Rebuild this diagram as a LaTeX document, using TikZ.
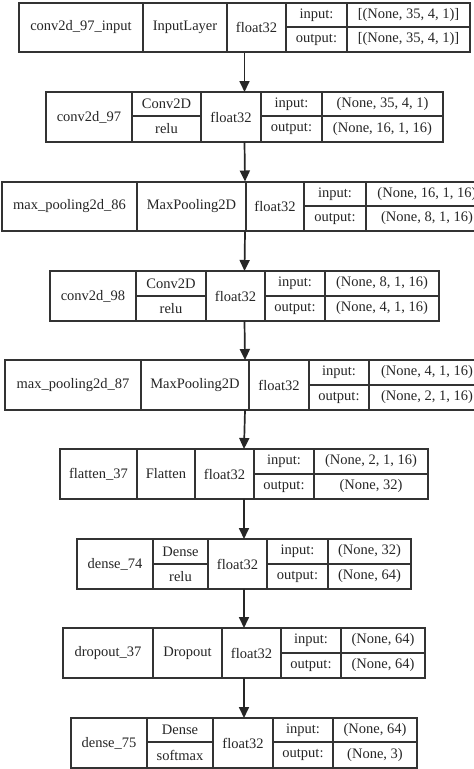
\documentclass[tikz,border=0pt]{standalone}
\usepackage{fontspec}
\setmainfont{Liberation Serif}
\usetikzlibrary{arrows.meta}
\newcommand\mycell[6]{%
  \pgfmathsetmacro\cw{#3-#2}\pgfmathsetmacro\ch{#5-#4}%
  \node[cell, minimum width=\cw pt, minimum height=\ch pt] (#1) at ({(#2+#3)/2},{(#4+#5)/2}) {#6};}
\newcommand\myrec[4]{% name, top, x0, x5
  \pgfmathsetmacro\cw{#4-#3}%
  \node[rec, minimum width=\cw pt, minimum height=50pt] (#1) at ({(#3+#4)/2},{#2+25}) {};}
\tikzset{
  cell/.style={draw=black!80, line width=1.2pt, inner sep=0pt, outer sep=0pt, text=black!85,
    font=\fontsize{14.5}{16}\selectfont},
  rec/.style={draw=black!80, line width=1.4pt, inner sep=0pt, outer sep=0pt},
  arr/.style={draw=black!85, line width=1.7pt, -{Triangle[width=10pt,length=11pt]}}
}
\begin{document}
\begin{tikzpicture}[x=1pt,y=-1pt]
\useasboundingbox (0,0) rectangle (474,769);
\clip (0,0) rectangle (474,769);
\fill[white] (0,0) rectangle (474,769);
% 1
\mycell{a1}{19}{143}{3}{52}{conv2d\_97\_input}
\mycell{a2}{143}{227}{3}{52}{InputLayer}
\mycell{a3}{227}{286}{3}{52}{float32}
\mycell{a4}{286}{347}{3}{27}{input:}
\mycell{a5}{286}{347}{27}{52}{output:}
\mycell{a6}{347}{470}{3}{27}{[(None, 35, 4, 1)]}
\mycell{a7}{347}{470}{27}{52}{[(None, 35, 4, 1)]}
\myrec{L1}{2.5}{19}{470}
% 2
\mycell{b1}{46}{132}{92}{142}{conv2d\_97}
\mycell{b2}{132}{201}{92}{116}{Conv2D}
\mycell{b2b}{132}{201}{116}{142}{relu}
\mycell{b3}{201}{261}{92}{142}{float32}
\mycell{b4}{261}{322}{92}{116}{input:}
\mycell{b5}{261}{322}{116}{142}{output:}
\mycell{b6}{322}{443}{92}{116}{(None, 35, 4, 1)}
\mycell{b7}{322}{443}{116}{142}{(None, 16, 1, 16)}
\myrec{L2}{92}{46}{443}
% 3
\mycell{c1}{2}{137}{182}{231}{max\_pooling2d\_86}
\mycell{c2}{137}{246}{182}{231}{MaxPooling2D}
\mycell{c3}{246}{304}{182}{231}{float32}
\mycell{c4}{304}{366}{182}{206}{input:}
\mycell{c5}{304}{366}{206}{231}{output:}
\mycell{c6}{366}{488}{182}{206}{(None, 16, 1, 16)}
\mycell{c7}{366}{488}{206}{231}{(None, 8, 1, 16)}
\myrec{L3}{181.5}{2}{488}
% 4
\mycell{d1}{50}{136}{271}{321}{conv2d\_98}
\mycell{d2}{136}{206}{271}{296}{Conv2D}
\mycell{d2b}{136}{206}{296}{321}{relu}
\mycell{d3}{206}{265}{271}{321}{float32}
\mycell{d4}{265}{325}{271}{296}{input:}
\mycell{d5}{265}{325}{296}{321}{output:}
\mycell{d6}{325}{439}{271}{296}{(None, 8, 1, 16)}
\mycell{d7}{325}{439}{296}{321}{(None, 4, 1, 16)}
\myrec{L4}{271}{50}{439}
% 5
\mycell{e1}{5}{141}{360}{410}{max\_pooling2d\_87}
\mycell{e2}{141}{249}{360}{410}{MaxPooling2D}
\mycell{e3}{249}{309}{360}{410}{float32}
\mycell{e4}{309}{369}{360}{385}{input:}
\mycell{e5}{309}{369}{385}{410}{output:}
\mycell{e6}{369}{485}{360}{385}{(None, 4, 1, 16)}
\mycell{e7}{369}{485}{385}{410}{(None, 2, 1, 16)}
\myrec{L5}{360}{5}{485}
% 6
\mycell{f1}{60}{137}{449}{499}{flatten\_37}
\mycell{f2}{137}{195}{449}{499}{Flatten}
\mycell{f3}{195}{254}{449}{499}{float32}
\mycell{f4}{254}{314}{449}{474}{input:}
\mycell{f5}{254}{314}{474}{499}{output:}
\mycell{f6}{314}{428}{449}{474}{(None, 2, 1, 16)}
\mycell{f7}{314}{428}{474}{499}{(None, 32)}
\myrec{L6}{449}{60}{428}
% 7
\mycell{g1}{77}{153}{539}{589}{dense\_74}
\mycell{g2}{153}{208}{539}{564}{Dense}
\mycell{g2b}{153}{208}{564}{589}{relu}
\mycell{g3}{208}{267}{539}{589}{float32}
\mycell{g4}{267}{328}{539}{564}{input:}
\mycell{g5}{267}{328}{564}{589}{output:}
\mycell{g6}{328}{411}{539}{564}{(None, 32)}
\mycell{g7}{328}{411}{564}{589}{(None, 64)}
\myrec{L7}{539}{77}{411}
% 8
\mycell{h1}{63}{153}{628}{678}{dropout\_37}
\mycell{h2}{153}{222}{628}{678}{Dropout}
\mycell{h3}{222}{281}{628}{678}{float32}
\mycell{h4}{281}{341}{628}{653}{input:}
\mycell{h5}{281}{341}{653}{678}{output:}
\mycell{h6}{341}{425}{628}{653}{(None, 64)}
\mycell{h7}{341}{425}{653}{678}{(None, 64)}
\myrec{L8}{628}{63}{425}
% 9
\mycell{i1}{71}{147}{718}{768}{dense\_75}
\mycell{i2}{147}{213}{718}{742}{Dense}
\mycell{i2b}{147}{213}{742}{768}{softmax}
\mycell{i3}{213}{273}{718}{768}{float32}
\mycell{i4}{273}{333}{718}{742}{input:}
\mycell{i5}{273}{333}{742}{768}{output:}
\mycell{i6}{333}{417}{718}{742}{(None, 64)}
\mycell{i7}{333}{417}{742}{768}{(None, 3)}
\myrec{L9}{718}{71}{417}
% arrows
\draw[arr] (L1.south) -- (L2.north);
\draw[arr] (L2.south) -- (L3.north);
\draw[arr] (L3.south) -- (L4.north);
\draw[arr] (L4.south) -- (L5.north);
\draw[arr] (L5.south) -- (L6.north);
\draw[arr] (L6.south) -- (L7.north);
\draw[arr] (L7.south) -- (L8.north);
\draw[arr] (L8.south) -- (L9.north);
\end{tikzpicture}
\end{document}
